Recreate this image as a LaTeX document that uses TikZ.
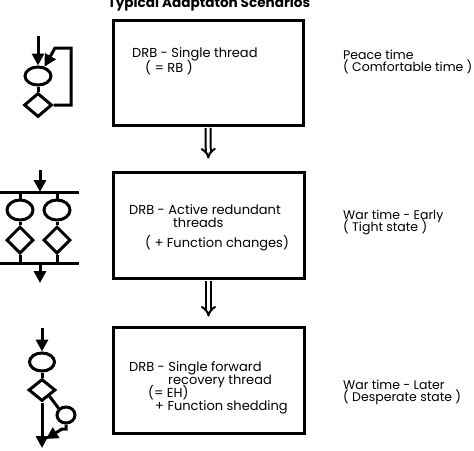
\documentclass[tikz,border=0pt]{standalone}
\usepackage{fontspec}
\setmainfont{Poppins}
\usetikzlibrary{arrows.meta,shapes.geometric}
\begin{document}
\begin{tikzpicture}[x=1pt,y=-1pt,
  ln/.style={line width=3pt},
  arr/.style={line width=3pt,-{Triangle[length=12pt,width=12pt]}},
  oval/.style={draw,ellipse,line width=3pt,inner sep=0pt},
  dia/.style={draw,diamond,line width=3pt,inner sep=0pt,aspect=1},
  box/.style={draw,rectangle,line width=3pt,inner sep=0pt},
  dbl/.style={double,double distance=3pt,line width=2pt,-{Implies}},
  txt/.style={anchor=base west,inner sep=0pt,font=\fontsize{13}{15}\selectfont},
  lab/.style={anchor=base west,inner sep=0pt,font=\fontsize{12.5}{15}\selectfont}
]
\useasboundingbox (0,0) rectangle (474,450);
% title
\node[anchor=base,inner sep=0pt,font=\bfseries\fontsize{13.6}{16}\selectfont] (title) at (209,7) {Typical Adaptaton Scenarios};
% boxes
\node[box,minimum width=190pt,minimum height=105pt] (b1) at (208,72.5) {};
\node[box,minimum width=191pt,minimum height=106pt] (b2) at (208.5,225) {};
\node[box,minimum width=191pt,minimum height=106pt] (b3) at (208.5,380) {};
\draw[dbl,shorten <=1.5pt,shorten >=12pt] (b1.south) -- (b2.north);
\draw[dbl,shorten <=1.5pt,shorten >=9pt] (b2.south) -- (b3.north);
% box texts
\node[txt] (t11) at (132,57) {DRB - Single thread};
\node[txt] (t12) at (145,72) {( = RB )};
\node[txt] (t21) at (129,214) {DRB - Active redundant};
\node[txt] (t22) at (173,227) {threads};
\node[txt] (t23) at (145,247) {( + Function changes)};
\node[txt] (t31) at (129,371) {DRB - Single forward};
\node[txt] (t32) at (168,384) {recovery thread};
\node[txt] (t33) at (148,397) {(= EH)};
\node[txt] (t34) at (155,410) {+ Function shedding};
% right labels
\node[lab] (r11) at (343,59) {Peace time};
\node[lab] (r12) at (343,71) {( Comfortable time )};
\node[lab] (r21) at (343,219) {War time - Early};
\node[lab] (r22) at (343,231) {( Tight state )};
\node[lab] (r31) at (343,389) {War time - Later};
\node[lab] (r32) at (343,401) {( Desperate state )};
% icon 1
\coordinate (a1) at (38,36);
\node[oval,minimum width=26pt,minimum height=18pt] (e1) at (38,76) {};
\node[dia,minimum width=28pt,minimum height=24pt] (d1) at (38,105) {};
\coordinate (l1a) at (71,105);
\coordinate (l1b) at (71,48);
\coordinate (l1c) at (55,48);
\draw[arr] (a1) -- (e1.north);
\draw[ln] (e1.south) -- (d1.north);
\draw[arr] (d1.east) -- (l1a) -- (l1b) -- (l1c) -- (e1.55);
% icon 2
\coordinate (a2) at (40,170);
\coordinate (tbl) at (0,192);
\coordinate (tbr) at (79,192);
\coordinate (tbm) at (40,192);
\coordinate (bbl) at (0,263);
\coordinate (bbr) at (79,263);
\coordinate (bbm) at (40,263);
\coordinate (a2e) at (40,283);
\draw[ln] (tbl) -- (tbr);
\draw[ln] (bbl) -- (bbr);
\draw[arr] (a2) -- (tbm);
\draw[arr] (bbm) -- (a2e);
\node[oval,minimum width=26pt,minimum height=20pt] (e2a) at (20,210) {};
\node[oval,minimum width=26pt,minimum height=20pt] (e2b) at (57,210) {};
\node[dia,minimum width=27pt,minimum height=27pt] (d2a) at (20,240) {};
\node[dia,minimum width=27pt,minimum height=27pt] (d2b) at (57,240) {};
\draw[ln] (e2a.north) -- (e2a.north |- tbl);
\draw[ln] (e2b.north) -- (e2b.north |- tbl);
\draw[ln] (e2a.south) -- (d2a.north);
\draw[ln] (e2b.south) -- (d2b.north);
\draw[ln] (d2a.south) -- (d2a.south |- bbl);
\draw[ln] (d2b.south) -- (d2b.south |- bbl);
% icon 3
\coordinate (a3) at (42,328);
\node[oval,minimum width=25pt,minimum height=18pt] (e3) at (42,362) {};
\node[dia,minimum width=27pt,minimum height=22pt] (d3) at (42,390) {};
\node[oval,minimum width=18pt,minimum height=16pt] (c3) at (66,415) {};
\coordinate (a3e) at (42,448);
\coordinate (l3a) at (66,429);
\coordinate (l3b) at (62,429);
\coordinate (a3t) at (46,439);
\draw[arr] (a3) -- (e3.north);
\draw[ln] (e3.south) -- (d3.north);
\draw[arr] (d3.south) -- (a3e);
\draw[ln] (d3.south east) -- (c3.north west);
\draw[arr] (c3.south) -- (l3a) -- (l3b) -- (a3t);
\end{tikzpicture}
\end{document}
